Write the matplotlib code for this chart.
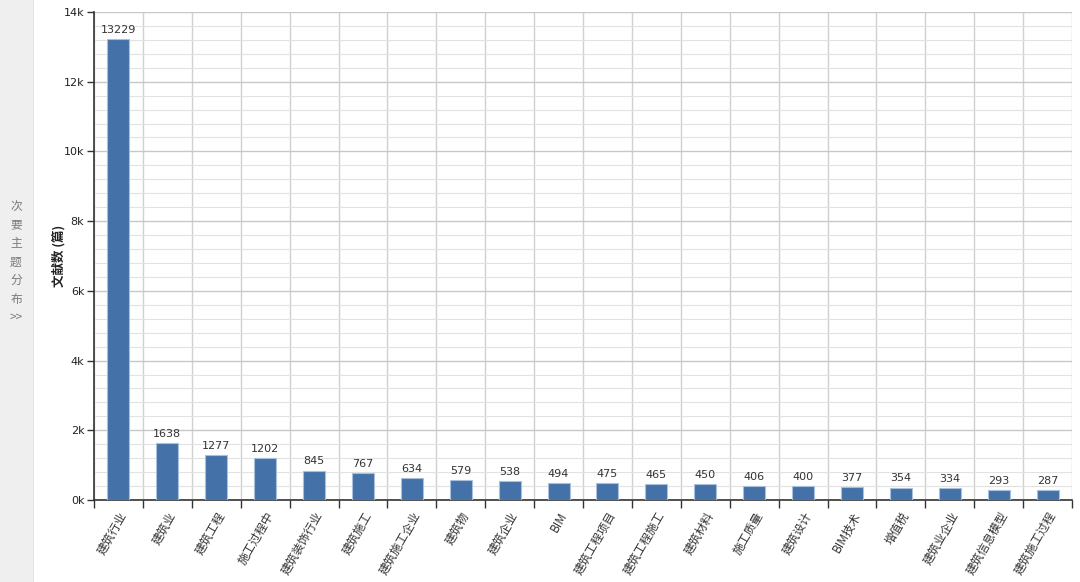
import matplotlib
matplotlib.use("Agg")
import matplotlib.pyplot as plt
from matplotlib.ticker import MultipleLocator, FixedLocator, FuncFormatter
from matplotlib.patches import Rectangle

plt.rcParams['font.family'] = ['Noto Sans CJK SC', 'DejaVu Sans']

categories = ["建筑行业", "建筑业", "建筑工程", "施工过程中", "建筑装饰行业", "建筑施工",
              "建筑施工企业", "建筑物", "建筑企业", "BIM", "建筑工程项目", "建筑工程施工",
              "建筑材料", "施工质量", "建筑设计", "BIM技术", "增值税", "建筑业企业",
              "建筑信息模型", "建筑施工过程"]
values = [13229, 1638, 1277, 1202, 845, 767, 634, 579, 538, 494, 475, 465,
          450, 406, 400, 377, 354, 334, 293, 287]
y_label = "文献数 (篇)"
side_text = "次\n要\n主\n题\n分\n布\n>>"

fig = plt.figure(figsize=(10.8, 5.82), dpi=100)
fig.patches.append(Rectangle((0, 0), 33/1080, 1, transform=fig.transFigure,
                             facecolor='#efefef', edgecolor='none', zorder=0))
fig.patches.append(Rectangle((33/1080, 0), 1/1080, 1, transform=fig.transFigure,
                             facecolor='#e2e2e2', edgecolor='none', zorder=0))
fig.text(16/1080, 1 - 262/582, side_text, ha='center', va='center', fontsize=8.5,
         color='#7a7a7a', linespacing=1.55)

ax = fig.add_axes([94/1080, 1 - 500/582, (1072 - 94)/1080, (500 - 12)/582])
n = len(categories)
x = list(range(n))
bars = ax.bar(x, values, width=0.45, color='#4472a8', edgecolor='#a9c0dc',
              linewidth=0.8, zorder=3)
for xi, v in zip(x, values):
    ax.text(xi, v + 120, str(v), ha='center', va='bottom', fontsize=8,
            color='#333333', family=['DejaVu Sans'], zorder=4)

ax.set_xlim(-0.5, n - 0.5)
ax.set_ylim(0, 14000)
ax.yaxis.set_major_locator(MultipleLocator(2000))
ax.yaxis.set_minor_locator(MultipleLocator(400))
ax.yaxis.set_major_formatter(FuncFormatter(lambda v, p: f"{int(v/1000)}k"))
ax.tick_params(axis='y', which='major', length=5, width=1, color='#333333',
               labelsize=8, labelcolor='#222222', pad=2)
ax.tick_params(axis='y', which='minor', length=0)
for lab in ax.get_yticklabels():
    lab.set_family(['DejaVu Sans'])

ax.xaxis.set_major_locator(FixedLocator([i - 0.5 for i in range(n + 1)]))
ax.xaxis.set_minor_locator(FixedLocator(x))
ax.xaxis.set_major_formatter(FuncFormatter(lambda v, p: ""))
ax.set_xticks(x, minor=True)
ax.set_xticklabels(categories, minor=True, rotation=60, ha='right',
                   rotation_mode='anchor', fontsize=8.5, color='#333333')
ax.tick_params(axis='x', which='major', length=6, width=1, color='#333333')
ax.tick_params(axis='x', which='minor', length=0, pad=7)

ax.grid(True, axis='y', which='major', color='#c8c8c8', linewidth=1, zorder=0)
ax.grid(True, axis='y', which='minor', color='#e2e2e2', linewidth=0.8, zorder=0)
ax.grid(True, axis='x', which='major', color='#d0d0d0', linewidth=1, zorder=0)
ax.set_axisbelow(True)

for s in ['top', 'right']:
    ax.spines[s].set_visible(False)
ax.spines['left'].set_color('#333333')
ax.spines['bottom'].set_color('#333333')
ax.spines['left'].set_linewidth(1.2)
ax.spines['bottom'].set_linewidth(1.2)

ax.set_ylabel(y_label, fontsize=9, fontweight='bold', color='#222222')
ax.yaxis.set_label_coords((66 - 94) / 978, 0.5)

fig.savefig("out.png", dpi=100)
